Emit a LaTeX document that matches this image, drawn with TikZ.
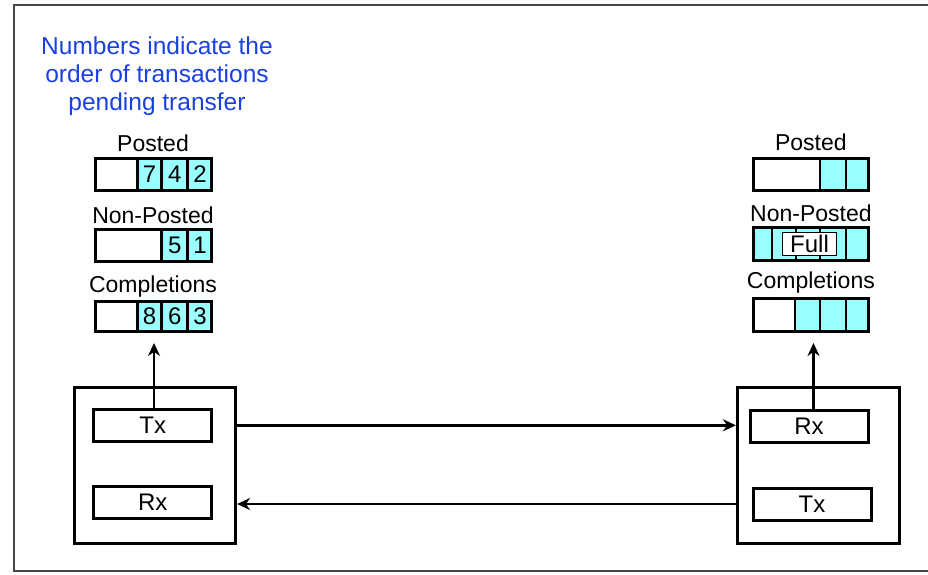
\documentclass[tikz,border=0pt]{standalone}
\usepackage{fontspec}
\setmainfont{Liberation Sans}
\usetikzlibrary{arrows.meta,positioning}
\definecolor{qcyan}{RGB}{153,255,255}
\definecolor{noteblue}{RGB}{25,65,225}
\definecolor{framegray}{RGB}{70,70,70}

\tikzset{
  devbox/.style={draw, line width=3.2pt, minimum width=161pt, minimum height=156pt, inner sep=0pt},
  portbox/.style={draw, line width=3pt, minimum width=118pt, minimum height=32pt, inner sep=0pt,
    font=\fontsize{24}{27}\selectfont},
  queue/.style={draw, line width=3pt, minimum width=116pt, minimum height=32pt, inner sep=0pt},
  qlabel/.style={font=\fontsize{23}{26}\selectfont, inner sep=1pt},
  qnum/.style={font=\fontsize{24}{27}\selectfont, inner sep=0pt},
  divider/.style={line width=2.6pt},
  link/.style={line width=2.8pt, -{Stealth[length=13pt,width=12pt]}}
}

\begin{document}
\begin{tikzpicture}[x=1pt,y=-1pt]
        \useasboundingbox (0,0) rectangle (928,574);
        % frame, open to the right
        \draw[framegray, line width=1.5pt] (928,5) -- (14,5) -- (14,571) -- (928,571);

        \node[noteblue, align=center, font=\fontsize{24.5}{28}\selectfont] (note) at (157,76)
            {Numbers indicate the\\order of transactions\\pending transfer};

        % left side queues
        \fill[qcyan] (137.3,158.5) rectangle (212,190);
        \fill[qcyan] (161.7,229.5) rectangle (212,261.5);
        \fill[qcyan] (137.3,301.5) rectangle (212,331.5);
        \node[queue, minimum height=31.5pt] (qAP) at (153,174.25) {};
        \node[queue] (qAN) at (153,245.5) {};
        \node[queue, minimum height=30pt] (qAC) at (153,316.5) {};
        \foreach \x in {137.3,161.7,187.7} \draw[divider] (\x,158.5) -- (\x,190);
        \foreach \x in {161.7,187.7} \draw[divider] (\x,229.5) -- (\x,261.5);
        \foreach \x in {137.3,161.7,187.7} \draw[divider] (\x,301.5) -- (\x,331.5);
        \node[qnum] at (149.5,174.5) {7};
        \node[qnum] at (174.7,174.5) {4};
        \node[qnum] at (200,174.5) {2};
        \node[qnum] at (174.7,245.5) {5};
        \node[qnum] at (200,245.5) {1};
        \node[qnum] at (149.5,316.5) {8};
        \node[qnum] at (174.7,316.5) {6};
        \node[qnum] at (200,316.5) {3};
        \node[qlabel, above=4pt of qAP] {Posted};
        \node[qlabel, above=3pt of qAN] {Non-Posted};
        \node[qlabel, above=2pt of qAC] {Completions};

        % right side queues
        \fill[qcyan] (820,158.2) rectangle (868.5,190.2);
        \fill[qcyan] (753.2,227.5) rectangle (868.5,260.5);
        \fill[qcyan] (795,298.2) rectangle (868.5,331.8);
        \node[queue, minimum width=115.3pt] (qBP) at (810.9,174.2) {};
        \node[queue, minimum width=115.3pt, minimum height=33pt] (qBN) at (810.9,244) {};
        \node[queue, minimum width=115.3pt, minimum height=33.6pt] (qBC) at (810.9,315) {};
        \foreach \x in {820,846} \draw[divider] (\x,158.2) -- (\x,190.2);
        \foreach \x in {772,796,820,846} \draw[divider] (\x,227.5) -- (\x,260.5);
        \foreach \x in {795,820,846} \draw[divider] (\x,298.2) -- (\x,331.8);
        \node[draw, fill=white, line width=1.3pt, minimum width=54pt, minimum height=23pt,
            inner sep=0pt, qnum] (full) at (809.5,244.2) {Full};
        \node[qlabel, above=5pt of qBP] {Posted};
        \node[qlabel, above=3pt of qBN] {Non-Posted};
        \node[qlabel, above=2pt of qBC] {Completions};

        % the two devices
        \node[devbox] (devA) at (155,465.5) {};
        \node[devbox, minimum width=162pt] (devB) at (818.5,465.5) {};
        \node[portbox] (txA) at (152.8,425.3) {Tx};
        \node[portbox] (rxA) at (152.8,502) {Rx};
        \node[portbox] (rxB) at (809,426) {Rx};
        \node[portbox] (txB) at (812,504) {Tx};

        \coordinate (tipA) at (154,343);
        \coordinate (tipB) at (813.5,343);
        \draw[link] (txA.north -| tipA) -- (tipA);
        \draw[link] (rxB.north -| tipB) -- (tipB);
        \draw[link] (txA -| devA.east) -- (txA -| devB.west);
        \draw[link] (txB -| devB.west) -- (txB -| devA.east);
    \end{tikzpicture}
\end{document}
